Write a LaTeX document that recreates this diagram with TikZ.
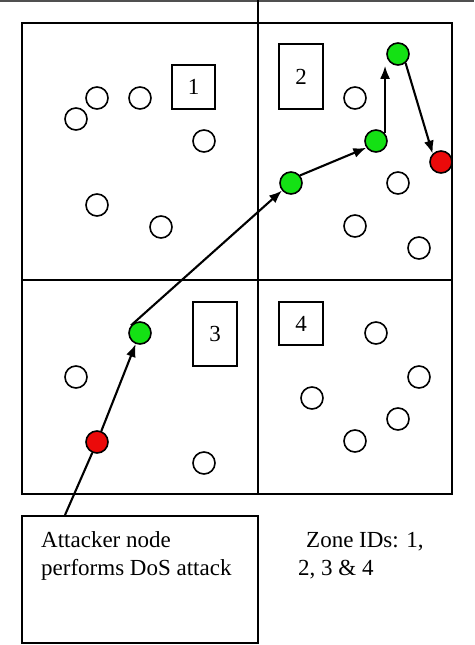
\documentclass[tikz,border=0pt]{standalone}
\usepackage{fontspec}
\setmainfont{Liberation Serif}
\usetikzlibrary{arrows.meta}

\definecolor{hopgreen}{RGB}{20,225,20}
\definecolor{badred}{RGB}{235,10,10}
\definecolor{edgegray}{RGB}{80,80,80}

\begin{document}
\begin{tikzpicture}[x=1pt, y=-1pt, >={Latex[length=13pt,width=10pt]},
	every node/.style={font=\fontsize{23}{28}\selectfont},
	idle/.style={draw, circle, fill=white, minimum size=22pt, inner sep=0pt, line width=1.6pt},
	hop/.style={idle, fill=hopgreen},
	bad/.style={idle, fill=badred},
	zone/.style={draw, rectangle, inner sep=0pt, line width=1.8pt},
	route/.style={->, line width=2.1pt}]
	\useasboundingbox (0,0) rectangle (474,645);
	
	% field and zone borders
	\fill[edgegray] (0,0) rectangle (474,2);
	\draw[line width=2pt] (22,23) rectangle (452,494);
	\draw[line width=2pt] (22,280) -- (452,280);
	\draw[line width=2pt] (258,0) -- (258,494);
	
	\node[zone, minimum width=43pt, minimum height=44pt] (z1) at (193.5,87) {1};
	\node[zone, minimum width=44pt, minimum height=65pt] (z2) at (301,76.5) {2};
	\node[zone, minimum width=44pt, minimum height=64pt] (z3) at (215,334) {3};
	\node[zone, minimum width=44pt, minimum height=43pt] (z4) at (301,323.5) {4};
	
	% zone 1
	\node[idle] (n1) at (97,98) {};
	\node[idle] (n2) at (140,98) {};
	\node[idle] (n3) at (76,119) {};
	\node[idle] (n4) at (204,141) {};
	\node[idle] (n5) at (97,205) {};
	\node[idle] (n6) at (161,227) {};
	
	% zone 2
	\node[idle] (n7) at (355,98) {};
	\node[idle] (n8) at (398,183) {};
	\node[idle] (n9) at (355,226) {};
	\node[idle] (n10) at (419,248) {};
	\node[hop] (d) at (291,183) {};
	\node[hop] (e) at (376,141) {};
	\node[hop] (f) at (398,54) {};
	\node[bad] (g) at (441,162) {};
	
	% zone 3
	\node[idle] (n11) at (76,377) {};
	\node[idle] (n12) at (204,463) {};
	\node[hop] (c) at (140,333) {};
	\node[bad] (b) at (97,442) {};
	
	% zone 4
	\node[idle] (n13) at (376,333) {};
	\node[idle] (n14) at (419,377) {};
	\node[idle] (n15) at (312,398) {};
	\node[idle] (n16) at (398,419) {};
	\node[idle] (n17) at (355,441) {};
	
	% notes
	\node[draw, line width=2pt, minimum width=236pt, minimum height=127pt, inner sep=0pt] (a) at (140,579.5) {};
	\node[anchor=north west, inner sep=0pt, align=left] (atext) at (41,531) {Attacker node\\performs DoS attack};
	\node[anchor=north west, inner sep=0pt, align=left] (ids) at (298,532) {\hspace*{8pt}Zone IDs: 1,\\2, 3 \& 4};
	
	\draw[line width=2.1pt] ([xshift=44pt]a.north west) -- (b);
	\draw[route] (b) -- (c);
	\draw[route] (c.140) -- (d.220);
	\draw[route] (d.40) -- (e.215);
	\draw[route] (e.40) -- (e.40 |- f.south);
	\draw[route] (f.-50) -- (g.135);
\end{tikzpicture}
\end{document}
